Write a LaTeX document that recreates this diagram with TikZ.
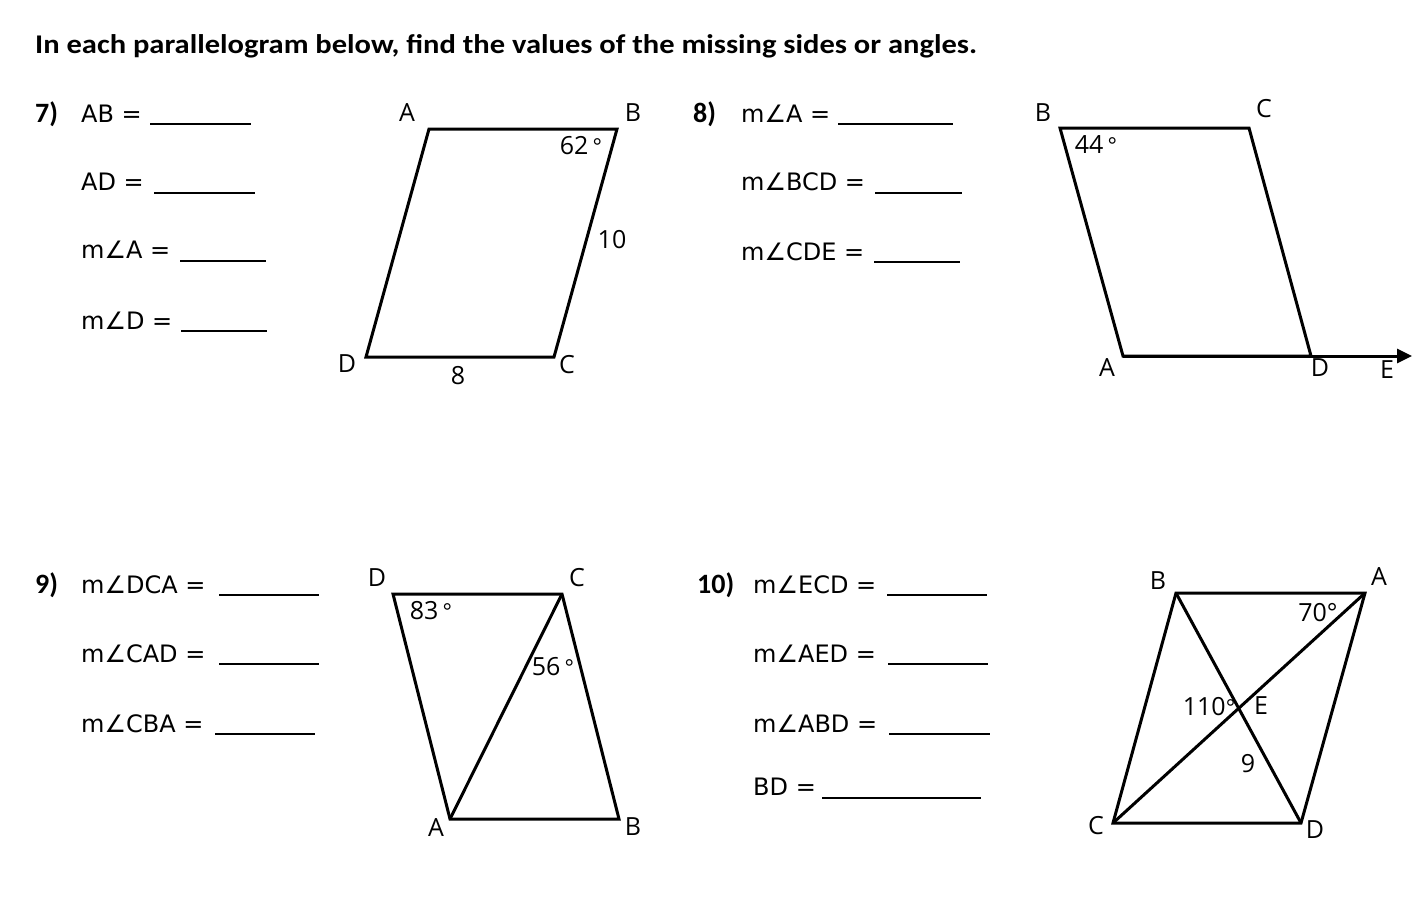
\documentclass[tikz,border=0pt]{standalone}
\usepackage{fontspec}
\setmainfont{DejaVu Sans}
\newfontfamily\titlefont{Carlito}
\newfontfamily\titlefontw[FakeStretch=1.13]{Carlito}
\newfontfamily\labfont{Open Sans}
\newfontfamily\qfontfam{DejaVu Sans}
\usetikzlibrary{arrows.meta}
\tikzset{
  fig/.style={line width=3pt, line join=miter},
  lbl/.style={font=\labfont\fontsize{25}{28}\selectfont, inner sep=0pt},
  q/.style={font=\qfontfam\fontsize{24}{28}\selectfont, anchor=base west, inner sep=0pt},
  num/.style={font=\titlefont\bfseries\fontsize{28}{30}\selectfont, anchor=base west, inner sep=0pt},
  blank/.style={line width=1.2pt},
  ttl/.style={font=\titlefontw\bfseries\fontsize{27}{30}\selectfont, anchor=base west, inner sep=0pt}
}
\newcommand{\dg}{{\raisebox{0.05ex}{\fontsize{22}{22}\selectfont °}}}
\begin{document}
\begin{tikzpicture}[x=1pt,y=-1pt]
\useasboundingbox (0,0) rectangle (1412,910);
\fill[white] (0,0) rectangle (1412,910);
% title
\node[ttl] (title) at (35,53) {In each parallelogram below, find the values of the missing sides or angles.};

% ---- problem 7 text
\node[num] (n7) at (35,122) {7)};
\node[q] (q7a) at (81,122) {AB =};
\coordinate (b7a1) at (150,124); \coordinate (b7a2) at (251,124);
\draw[blank] (b7a1) -- (b7a2);
\node[q] (q7b) at (81,190) {AD =};
\coordinate (b7b1) at (154,193); \coordinate (b7b2) at (255,193);
\draw[blank] (b7b1) -- (b7b2);
\node[q] (q7c) at (81,258) {m∠A =};
\coordinate (b7c1) at (180,261); \coordinate (b7c2) at (266,261);
\draw[blank] (b7c1) -- (b7c2);
\node[q] (q7d) at (81,329) {m∠D =};
\coordinate (b7d1) at (181,331); \coordinate (b7d2) at (267,331);
\draw[blank] (b7d1) -- (b7d2);

% ---- figure 7
\coordinate (A7) at (429,129);
\coordinate (B7) at (617,129);
\coordinate (C7) at (554,357);
\coordinate (D7) at (366,357);
\draw[fig] (A7) -- (B7) -- (C7) -- (D7) -- cycle;
\node[lbl] (lA7) at (407,113) {A};
\node[lbl] (lB7) at (633,113) {B};
\node[lbl] (lC7) at (567,365) {C};
\node[lbl] (lD7) at (347,364) {D};
\node[lbl] (l62) at (581,146) {62\,\dg};
\node[lbl] (l10) at (612,240) {10};
\node[lbl] (l8) at (458,376) {8};

% ---- problem 8 text
\node[num] (n8) at (693,122) {8)};
\node[q] (q8a) at (741,122) {m∠A =};
\coordinate (b8a1) at (838,124); \coordinate (b8a2) at (953,124);
\draw[blank] (b8a1) -- (b8a2);
\node[q] (q8b) at (741,190) {m∠BCD =};
\coordinate (b8b1) at (875,193); \coordinate (b8b2) at (962,193);
\draw[blank] (b8b1) -- (b8b2);
\node[q] (q8c) at (741,260) {m∠CDE =};
\coordinate (b8c1) at (874,262); \coordinate (b8c2) at (960,262);
\draw[blank] (b8c1) -- (b8c2);

% ---- figure 8
\coordinate (B8) at (1060,128);
\coordinate (C8) at (1249,128);
\coordinate (D8) at (1311,356);
\coordinate (A8) at (1123,356);
\coordinate (E8) at (1412,356);
\draw[fig] (D8) -- (A8) -- (B8) -- (C8) -- (D8);
\draw[fig, -{Triangle[length=15pt,width=14pt]}] (A8) -- (E8);
\node[lbl] (lB8) at (1043,113) {B};
\node[lbl] (lC8) at (1264,109) {C};
\node[lbl] (lA8) at (1107,368) {A};
\node[lbl] (lD8) at (1320,368) {D};
\node[lbl] (lE8) at (1387,370) {E};
\node[lbl] (l44) at (1096,145) {44\,\dg};

% ---- problem 9 text
\node[num] (n9) at (35,593) {9)};
\node[q] (q9a) at (81,593) {m∠DCA =};
\coordinate (b9a1) at (219,595); \coordinate (b9a2) at (319,595);
\draw[blank] (b9a1) -- (b9a2);
\node[q] (q9b) at (81,662) {m∠CAD =};
\coordinate (b9b1) at (219,664); \coordinate (b9b2) at (319,664);
\draw[blank] (b9b1) -- (b9b2);
\node[q] (q9c) at (81,732) {m∠CBA =};
\coordinate (b9c1) at (215,734); \coordinate (b9c2) at (315,734);
\draw[blank] (b9c1) -- (b9c2);

% ---- figure 9
\coordinate (D9) at (393,594);
\coordinate (C9) at (562,594);
\coordinate (B9) at (619,819);
\coordinate (A9) at (450,819);
\draw[fig] (A9) -- (B9) -- (C9) -- (D9) -- cycle;
\draw[fig] (A9) -- (C9);
\node[lbl] (lD9) at (377,578) {D};
\node[lbl] (lC9) at (577,578) {C};
\node[lbl] (lA9) at (436,828) {A};
\node[lbl] (lB9) at (633,827) {B};
\node[lbl] (l83) at (431,611) {83\,\dg};
\node[lbl] (l56) at (553,667) {56\,\dg};

% ---- problem 10 text
\node[num] (n10) at (697,593) {10)};
\node[q] (q10a) at (753,593) {m∠ECD =};
\coordinate (b10a1) at (887,595); \coordinate (b10a2) at (987,595);
\draw[blank] (b10a1) -- (b10a2);
\node[q] (q10b) at (753,662) {m∠AED =};
\coordinate (b10b1) at (888,664); \coordinate (b10b2) at (988,664);
\draw[blank] (b10b1) -- (b10b2);
\node[q] (q10c) at (753,732) {m∠ABD =};
\coordinate (b10c1) at (889,734); \coordinate (b10c2) at (990,734);
\draw[blank] (b10c1) -- (b10c2);
\node[q] (q10d) at (753,795) {BD =};
\coordinate (b10d1) at (822,798); \coordinate (b10d2) at (981,798);
\draw[blank] (b10d1) -- (b10d2);

% ---- figure 10
\coordinate (B10) at (1176,593);
\coordinate (A10) at (1365,593);
\coordinate (D10) at (1301,823);
\coordinate (C10) at (1113,823);
\draw[fig] (A10) -- (B10) -- (C10) -- (D10) -- cycle;
\draw[fig] (B10) -- (D10);
\draw[fig] (C10) -- (A10);
\node[lbl] (lB10) at (1158,581) {B};
\node[lbl] (lA10) at (1379,577) {A};
\node[lbl] (lC10) at (1096,826) {C};
\node[lbl] (lD10) at (1315,830) {D};
\node[lbl] (lE10) at (1261,706) {E};
\node[lbl] (l70) at (1318,613) {70°};
\node[lbl] (l110) at (1209,707) {110\dg};
\node[lbl] (l9) at (1248,764) {9};
\end{tikzpicture}
\end{document}
